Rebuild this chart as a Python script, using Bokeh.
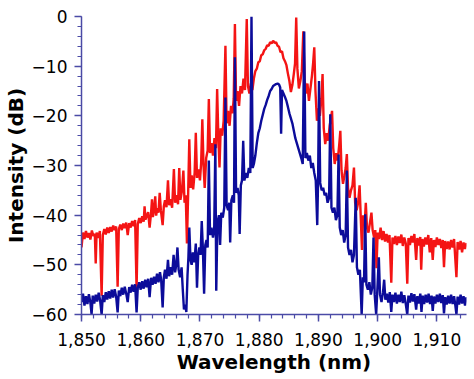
from bokeh.plotting import figure
from bokeh.models import Range1d, SingleIntervalTicker, NumeralTickFormatter
from bokeh.embed import file_html
from bokeh.resources import INLINE

# Spectra: (wavelength nm, intensity dB)
red_spectrum = [
    (1850.0, -46.5), (1850.25, -43.5), (1850.5, -44.8), (1850.75, -43.2), (1851.0, -44.5),
    (1851.25, -43.6), (1851.5, -44.9), (1851.75, -43.1), (1852.0, -44.2), (1852.25, -43.8),
    (1852.4, -49.7), (1852.55, -43.5), (1852.8, -44.6), (1853.1, -43.2), (1853.4, -56.2),
    (1853.6, -44.0), (1853.85, -42.8), (1854.1, -43.9), (1854.35, -42.5), (1854.6, -43.6),
    (1854.85, -42.4), (1855.1, -43.3), (1855.35, -42.1), (1855.6, -43.0), (1855.85, -42.3),
    (1856.1, -54.4), (1856.3, -42.8), (1856.55, -41.9), (1856.8, -43.0), (1857.05, -41.7),
    (1857.3, -42.6), (1857.55, -41.5), (1857.8, -44.0), (1858.05, -41.6), (1858.3, -42.5),
    (1858.55, -41.2), (1858.8, -42.2), (1859.05, -41.0), (1859.3, -54.8), (1859.5, -41.8),
    (1859.75, -40.6), (1860.0, -41.6), (1860.25, -40.2), (1860.5, -41.3), (1860.65, -38.2),
    (1860.8, -40.9), (1861.0, -40.2), (1861.25, -39.4), (1861.5, -42.5), (1861.75, -39.5),
    (1861.9, -36.8), (1862.05, -40.4), (1862.25, -38.9), (1862.45, -36.2), (1862.6, -40.1),
    (1862.8, -38.6), (1863.0, -39.5), (1863.2, -35.5), (1863.4, -39.0), (1863.7, -42.0),
    (1863.9, -38.2), (1864.1, -37.0), (1864.35, -38.4), (1864.6, -33.0), (1864.8, -38.0),
    (1865.05, -36.8), (1865.3, -38.5), (1865.6, -30.7), (1865.8, -37.5), (1866.05, -36.0),
    (1866.3, -37.8), (1866.5, -30.5), (1866.7, -36.9), (1866.95, -35.2), (1867.2, -31.0),
    (1867.4, -37.5), (1867.6, -36.0), (1867.8, -45.7), (1868.0, -36.0), (1868.2, -24.7),
    (1868.4, -34.5), (1868.6, -32.0), (1868.85, -34.8), (1869.1, -31.5), (1869.3, -23.4),
    (1869.5, -32.5), (1869.75, -30.8), (1870.0, -33.0), (1870.2, -29.5), (1870.4, -20.7),
    (1870.6, -30.0), (1870.8, -34.5), (1871.05, -28.5), (1871.3, -27.0), (1871.5, -16.6),
    (1871.7, -27.5), (1871.95, -25.5), (1872.2, -28.0), (1872.45, -24.5), (1872.7, -26.5),
    (1872.9, -14.6), (1873.1, -24.0), (1873.3, -30.4), (1873.5, -22.5), (1873.75, -24.0),
    (1874.0, -21.0), (1874.3, -5.9), (1874.5, -21.5), (1874.75, -19.0), (1875.0, -22.0),
    (1875.25, -18.0), (1875.5, -19.5), (1875.7, -16.5), (1875.9, -1.5), (1876.1, -17.0),
    (1876.35, -15.0), (1876.6, -18.0), (1876.85, -14.0), (1877.1, -15.5), (1877.35, -12.5),
    (1877.6, -14.8), (1877.9, -0.5), (1878.1, -14.0), (1878.35, -15.5), (1878.6, -13.5),
    (1878.85, -14.8), (1879.1, -12.5), (1879.35, -11.0), (1879.6, -10.5), (1879.85, -9.2),
    (1880.1, -9.0), (1880.35, -7.8), (1880.6, -7.6), (1880.85, -6.8), (1881.1, -6.5),
    (1881.35, -5.8), (1881.6, -5.9), (1881.85, -5.2), (1882.1, -5.4), (1882.35, -4.9),
    (1882.6, -5.3), (1882.85, -5.2), (1883.1, -5.9), (1883.35, -6.1), (1883.6, -7.2),
    (1883.85, -7.0), (1884.1, -8.4), (1884.35, -9.0), (1884.6, -9.8), (1884.85, -11.5),
    (1885.1, -13.0), (1885.35, -15.2), (1885.6, -13.8), (1885.85, -11.5), (1886.05, -9.5),
    (1886.25, -0.2), (1886.45, -10.5), (1886.7, -14.5), (1886.95, -13.0), (1887.2, -11.0),
    (1887.45, -3.0), (1887.65, -12.5), (1887.9, -15.5), (1888.15, -13.5), (1888.4, -17.0),
    (1888.65, -14.5), (1888.9, -12.0), (1889.1, -9.5), (1889.3, -6.2), (1889.5, -15.0),
    (1889.75, -21.0), (1890.0, -18.5), (1890.25, -20.0), (1890.5, -16.5), (1890.7, -11.6),
    (1890.9, -22.5), (1891.15, -25.7), (1891.4, -23.5), (1891.65, -25.0), (1891.9, -22.0),
    (1892.1, -20.5), (1892.3, -19.0), (1892.5, -26.5), (1892.75, -29.7), (1893.0, -27.5),
    (1893.25, -29.0), (1893.5, -26.0), (1893.7, -23.0), (1893.9, -31.0), (1894.15, -33.7),
    (1894.4, -32.0), (1894.6, -30.5), (1894.8, -27.7), (1895.0, -34.5), (1895.25, -36.5),
    (1895.5, -35.0), (1895.75, -34.0), (1896.0, -30.4), (1896.2, -37.5), (1896.45, -39.0),
    (1896.7, -37.5), (1896.95, -34.0), (1897.15, -40.5), (1897.35, -47.0), (1897.55, -40.0),
    (1897.8, -42.0), (1898.0, -37.5), (1898.2, -42.5), (1898.45, -43.5), (1898.7, -41.5),
    (1898.95, -39.5), (1899.15, -43.0), (1899.4, -44.5), (1899.6, -43.0), (1899.8, -50.7),
    (1900.0, -43.5), (1900.25, -44.8), (1900.5, -42.5), (1900.75, -45.0), (1901.0, -43.2),
    (1901.25, -45.3), (1901.5, -43.8), (1901.75, -45.5), (1902.0, -44.0), (1902.3, -53.6),
    (1902.5, -44.5), (1902.75, -45.8), (1903.0, -44.2), (1903.25, -46.0), (1903.5, -44.3),
    (1903.75, -45.6), (1904.0, -43.9), (1904.25, -46.2), (1904.5, -44.5), (1904.75, -45.7),
    (1905.0, -53.8), (1905.2, -44.6), (1905.45, -46.0), (1905.7, -44.2), (1905.95, -45.5),
    (1906.2, -43.8), (1906.5, -49.0), (1906.7, -44.6), (1906.95, -46.1), (1907.2, -44.4),
    (1907.35, -51.0), (1907.55, -44.8), (1907.8, -46.3), (1908.05, -44.5), (1908.3, -45.9),
    (1908.55, -44.0), (1908.8, -47.5), (1909.05, -44.6), (1909.3, -49.0), (1909.5, -45.0),
    (1909.75, -46.4), (1910.0, -44.5), (1910.25, -46.0), (1910.5, -44.8), (1910.75, -46.6),
    (1911.0, -45.0), (1911.2, -50.5), (1911.4, -45.2), (1911.65, -46.8), (1911.9, -45.3),
    (1912.15, -46.9), (1912.4, -45.0), (1912.65, -46.5), (1912.9, -44.8), (1913.3, -52.5),
    (1913.5, -45.4), (1913.75, -46.9), (1914.0, -45.2), (1914.25, -47.5), (1914.5, -45.5),
    (1914.75, -46.8), (1915.0, -45.6),
]

blue_spectrum = [
    (1850.0, -57.5), (1850.25, -55.8), (1850.5, -58.2), (1850.75, -56.3), (1851.0, -57.9),
    (1851.25, -55.9), (1851.5, -57.6), (1851.7, -60.0), (1851.9, -56.2), (1852.15, -57.8),
    (1852.4, -56.0), (1852.65, -57.4), (1852.9, -55.6), (1853.15, -57.2), (1853.4, -60.0),
    (1853.6, -56.1), (1853.85, -57.5), (1854.1, -55.5), (1854.35, -57.0), (1854.6, -55.3),
    (1854.85, -56.8), (1855.1, -55.0), (1855.35, -56.6), (1855.6, -54.9), (1855.85, -56.4),
    (1856.1, -59.6), (1856.3, -55.2), (1856.55, -56.3), (1856.8, -54.6), (1857.05, -56.0),
    (1857.3, -54.4), (1857.55, -55.8), (1857.8, -57.5), (1858.05, -54.5), (1858.3, -55.6),
    (1858.55, -54.0), (1858.8, -55.4), (1859.05, -53.9), (1859.3, -59.6), (1859.5, -54.6),
    (1859.75, -53.5), (1860.0, -55.0), (1860.25, -53.3), (1860.5, -54.8), (1860.75, -53.0),
    (1861.0, -54.5), (1861.25, -52.8), (1861.5, -56.5), (1861.75, -52.6), (1862.0, -54.0),
    (1862.25, -52.4), (1862.5, -53.8), (1862.75, -51.8), (1863.0, -53.5), (1863.25, -51.5),
    (1863.45, -53.0), (1863.7, -58.6), (1863.9, -52.5), (1864.1, -51.0), (1864.35, -52.8),
    (1864.6, -49.0), (1864.8, -52.3), (1865.05, -50.5), (1865.3, -52.0), (1865.55, -48.0),
    (1865.8, -51.5), (1866.0, -50.0), (1866.2, -46.5), (1866.4, -51.0), (1866.65, -52.5),
    (1866.9, -50.5), (1867.1, -55.0), (1867.3, -59.0), (1867.5, -58.0), (1867.7, -59.5),
    (1867.9, -52.0), (1868.05, -48.5), (1868.2, -42.5), (1868.4, -49.0), (1868.6, -50.0),
    (1868.8, -47.5), (1869.05, -49.5), (1869.3, -45.7), (1869.5, -54.6), (1869.7, -48.0),
    (1869.9, -46.5), (1870.1, -48.0), (1870.3, -41.2), (1870.5, -47.0), (1870.7, -55.8),
    (1870.9, -46.0), (1871.1, -45.0), (1871.3, -46.5), (1871.5, -29.0), (1871.7, -44.0),
    (1871.95, -42.5), (1872.2, -44.5), (1872.4, -43.0), (1872.6, -25.7), (1872.75, -55.2),
    (1872.95, -41.5), (1873.2, -40.0), (1873.4, -46.0), (1873.6, -39.5), (1873.85, -40.5),
    (1874.1, -38.5), (1874.3, -16.3), (1874.5, -38.0), (1874.75, -39.0), (1874.95, -37.5),
    (1875.1, -45.5), (1875.3, -37.0), (1875.55, -36.0), (1875.75, -37.5), (1875.9, -8.2),
    (1876.1, -35.5), (1876.35, -34.5), (1876.55, -36.0), (1876.7, -43.8), (1876.9, -34.0),
    (1877.1, -33.0), (1877.3, -25.0), (1877.5, -33.0), (1877.75, -31.5), (1878.0, -32.5),
    (1878.25, -30.5), (1878.5, -31.5), (1878.7, 0.0), (1878.9, -30.5), (1879.1, -29.7),
    (1879.35, -28.0), (1879.6, -25.5), (1879.85, -23.5), (1880.1, -22.5), (1880.35, -21.0),
    (1880.6, -19.8), (1880.85, -18.6), (1881.1, -17.8), (1881.35, -16.8), (1881.6, -16.0),
    (1881.85, -15.0), (1882.1, -14.6), (1882.35, -14.0), (1882.6, -13.8), (1882.85, -13.6),
    (1883.1, -13.5), (1883.35, -13.7), (1883.55, -14.3), (1883.7, -23.6), (1883.85, -14.8),
    (1884.1, -15.5), (1884.35, -16.2), (1884.6, -17.0), (1884.85, -18.2), (1885.1, -19.5),
    (1885.35, -20.5), (1885.6, -21.5), (1885.85, -23.0), (1886.1, -24.5), (1886.35, -25.5),
    (1886.6, -26.5), (1886.85, -27.5), (1887.1, -28.5), (1887.35, -29.7), (1887.6, -3.0),
    (1887.8, -28.5), (1888.05, -27.5), (1888.3, -29.0), (1888.55, -28.0), (1888.8, -30.5),
    (1889.05, -29.5), (1889.3, -31.5), (1889.55, -33.0), (1889.8, -42.0), (1889.95, -32.5),
    (1890.1, -13.0), (1890.3, -33.5), (1890.55, -35.0), (1890.8, -34.5), (1891.05, -36.0),
    (1891.3, -35.5), (1891.55, -37.5), (1891.8, -36.5), (1892.0, -19.7), (1892.2, -38.5),
    (1892.45, -39.5), (1892.7, -38.5), (1892.95, -41.0), (1893.2, -40.0), (1893.4, -27.8),
    (1893.6, -42.5), (1893.85, -44.0), (1894.1, -43.0), (1894.35, -45.5), (1894.6, -44.0),
    (1894.8, -31.0), (1895.0, -46.5), (1895.25, -48.0), (1895.5, -47.0), (1895.75, -49.5),
    (1896.0, -48.0), (1896.3, -36.5), (1896.5, -50.5), (1896.75, -52.0), (1897.0, -51.0),
    (1897.3, -60.0), (1897.5, -52.5), (1897.7, -53.5), (1897.9, -39.8), (1898.1, -54.0),
    (1898.35, -55.0), (1898.6, -53.5), (1898.85, -56.0), (1899.1, -54.5), (1899.3, -44.5),
    (1899.5, -56.0), (1899.75, -60.0), (1899.95, -55.0), (1900.2, -48.5), (1900.4, -56.0),
    (1900.65, -57.5), (1900.9, -55.5), (1901.1, -53.0), (1901.3, -57.0), (1901.55, -55.8),
    (1901.8, -57.6), (1902.05, -55.5), (1902.3, -59.5), (1902.5, -56.0), (1902.75, -57.5),
    (1903.0, -55.6), (1903.25, -57.8), (1903.5, -56.0), (1903.75, -57.5), (1904.0, -55.4),
    (1904.25, -57.7), (1904.5, -56.1), (1904.75, -57.9), (1905.0, -60.0), (1905.2, -56.2),
    (1905.45, -57.6), (1905.7, -55.7), (1905.95, -57.4), (1906.2, -55.9), (1906.5, -59.0),
    (1906.7, -56.3), (1906.95, -57.8), (1907.2, -55.8), (1907.4, -59.5), (1907.6, -56.2),
    (1907.85, -57.9), (1908.1, -56.0), (1908.35, -57.6), (1908.6, -55.8), (1908.85, -57.9),
    (1909.1, -56.2), (1909.3, -59.3), (1909.5, -56.4), (1909.75, -57.8), (1910.0, -56.0),
    (1910.25, -57.5), (1910.5, -55.8), (1910.75, -57.7), (1911.0, -56.1), (1911.2, -59.8),
    (1911.4, -56.5), (1911.65, -58.0), (1911.9, -56.2), (1912.15, -57.8), (1912.4, -56.0),
    (1912.65, -57.9), (1912.9, -56.3), (1913.1, -58.0), (1913.3, -60.0), (1913.5, -56.4),
    (1913.75, -58.0), (1914.0, -56.0), (1914.25, -57.8), (1914.5, -56.3), (1914.75, -58.2),
    (1915.0, -56.5),
]

y_tick_labels = {0: "0", -10: "\u221210", -20: "\u221220", -30: "\u221230",
                 -40: "\u221240", -50: "\u221250", -60: "\u221260"}

AXIS_COLOR = "#4b4ba6"
FONT = "DejaVu Sans"

p = figure(width=468, height=377, output_backend="svg", toolbar_location=None,
           x_range=Range1d(1850, 1915), y_range=Range1d(-60, 0),
           min_border_left=76, min_border_right=2, min_border_top=16, min_border_bottom=63)

p.outline_line_color = None
p.xgrid.visible = False
p.ygrid.visible = False

p.line([pt[0] for pt in red_spectrum], [pt[1] for pt in red_spectrum],
       line_color="#f41414", line_width=2.4)
p.line([pt[0] for pt in blue_spectrum], [pt[1] for pt in blue_spectrum],
       line_color="#0c0c9a", line_width=2.4)

p.xaxis.ticker = SingleIntervalTicker(interval=10, num_minor_ticks=5)
p.yaxis.ticker = SingleIntervalTicker(interval=10, num_minor_ticks=5)
p.xaxis.formatter = NumeralTickFormatter(format="0,0")
p.yaxis.major_label_overrides = y_tick_labels

for ax in (p.xaxis, p.yaxis):
    ax.axis_line_color = AXIS_COLOR
    ax.axis_line_width = 1.5
    ax.major_tick_line_color = AXIS_COLOR
    ax.minor_tick_line_color = AXIS_COLOR
    ax.major_tick_line_width = 1.5
    ax.minor_tick_line_width = 1.2
    ax.major_tick_out = 7
    ax.major_tick_in = 0
    ax.minor_tick_out = 4
    ax.minor_tick_in = 0
    ax.major_label_text_font = FONT
    ax.major_label_text_font_size = "17px"
    ax.major_label_text_color = "black"
    ax.axis_label_text_font = FONT
    ax.axis_label_text_font_size = "20px"
    ax.axis_label_text_font_style = "bold"
    ax.axis_label_text_color = "black"

p.xaxis.axis_label = "Wavelength (nm)"
p.yaxis.axis_label = "Intensity (dB)"
p.xaxis.major_label_standoff = 11
p.xaxis.axis_label_standoff = 1
p.yaxis.major_label_standoff = 7
p.yaxis.axis_label_standoff = 1

open("out.html", "w").write(file_html(p, INLINE))
